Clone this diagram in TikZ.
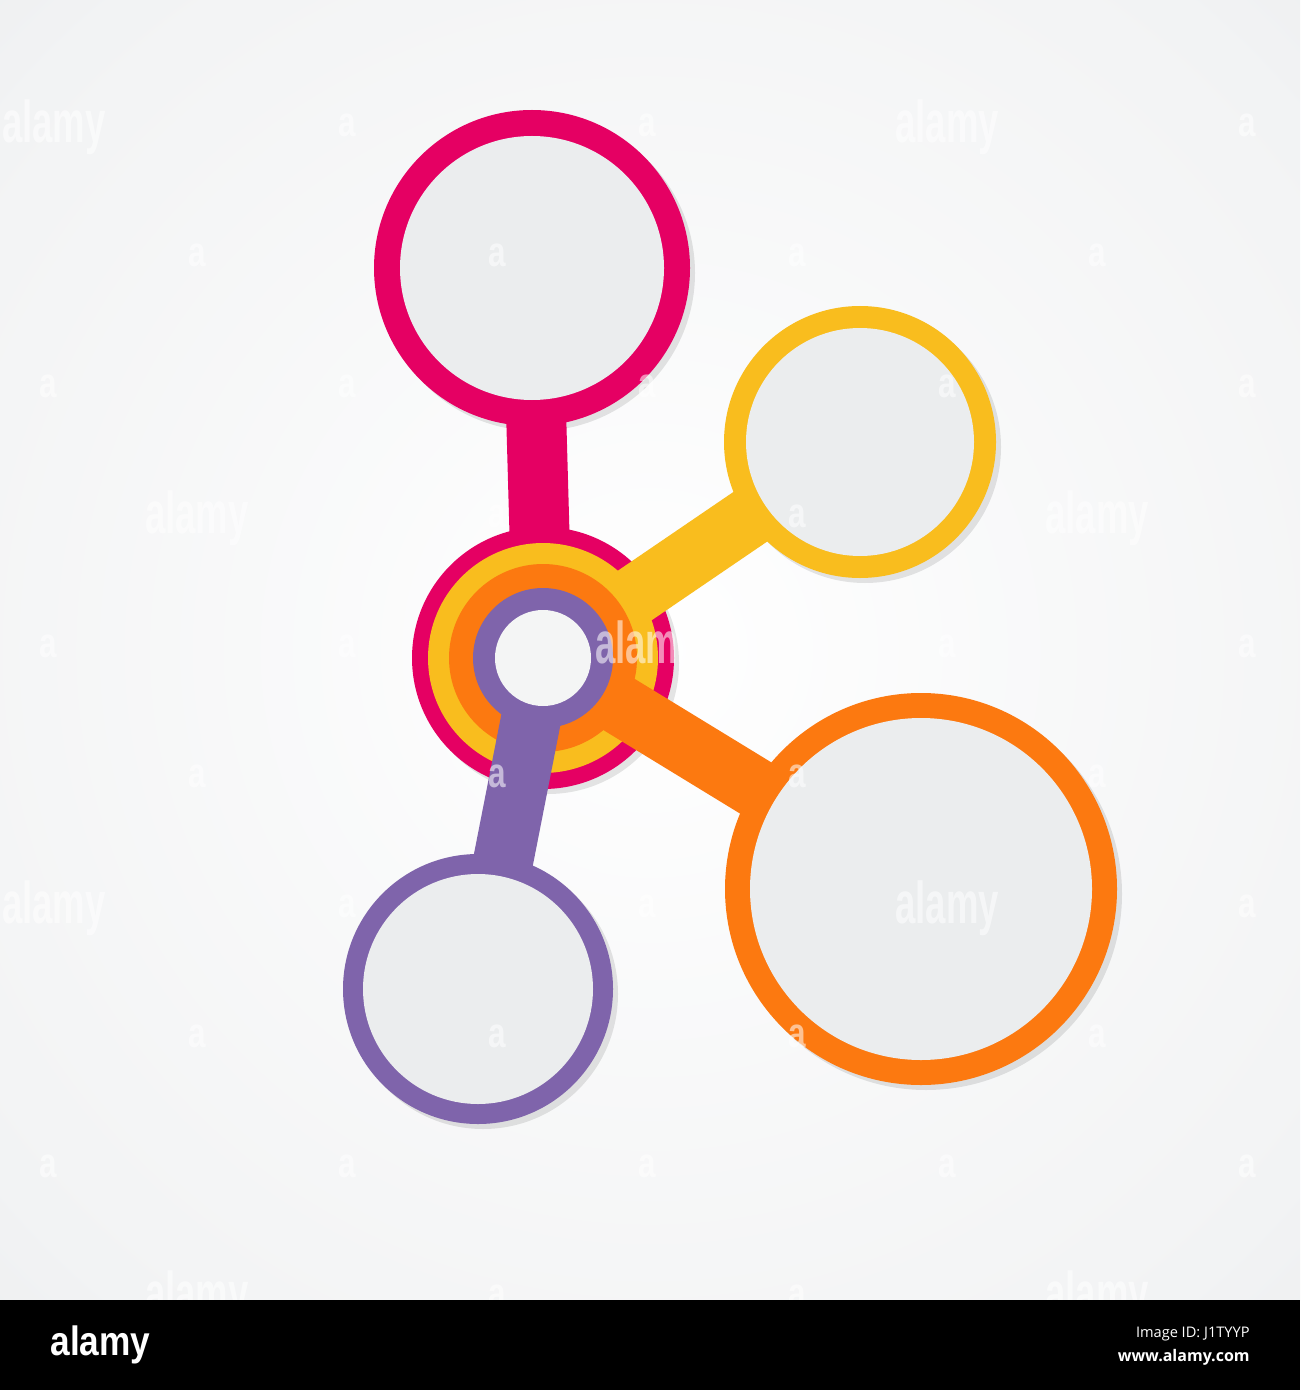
\documentclass[tikz,border=0pt]{standalone}
\usepackage{fontspec}
\usepackage{graphicx}
\setmainfont{Liberation Sans}
\newfontfamily\wmfont{Liberation Sans}
\newfontfamily\bannerfont{Open Sans}
\usetikzlibrary{shadows}

\definecolor{ringpink}{RGB}{229,0,99}
\definecolor{ringyellow}{RGB}{249,189,30}
\definecolor{ringorange}{RGB}{252,121,16}
\definecolor{ringpurple}{RGB}{127,100,171}
\definecolor{padgray}{RGB}{235,237,238}
\definecolor{corewhite}{RGB}{244,245,245}
\definecolor{bgmid}{RGB}{242,243,244}
\definecolor{bgedge}{RGB}{228,230,232}

\pgfdeclareradialshading{paper}{\pgfpoint{0bp}{0bp}}{color(0bp)=(white); color(15bp)=(white!50!bgmid); color(32bp)=(bgmid); color(50bp)=(bgedge)}

\tikzset{
    ring/.style={circle, fill=#1, inner sep=0pt},
    shadowed/.style={drop shadow={shadow xshift=2.5pt, shadow yshift=-2.5pt, fill=black, opacity=.10}},
    pad/.style={circle, fill=padgray, inner sep=0pt},
    stem/.style={line width=30pt, draw=#1},
    wmword/.style={anchor=base, inner sep=0pt, text=white, opacity=.55, font=\wmfont\bfseries\fontsize{29.5}{30}\selectfont},
    wmletter/.style={anchor=base, inner sep=0pt, text=white, opacity=.55, font=\wmfont\bfseries\fontsize{21}{22}\selectfont},
}

\begin{document}
\begin{tikzpicture}[x=0.5pt, y=-0.5pt]
    \useasboundingbox (0,0) rectangle (1300,1390);
    % Paper
    \shade[shading=paper] (0,0) rectangle (1300,1300);

    % Pink - top circle and outer hub
    \node[ring=ringpink, shadowed, minimum size=131pt] (hubpink) at (543,658) {};
    \node[ring=ringpink, shadowed, minimum size=158pt] (top) at (532,268) {};
    \draw[stem=ringpink] (hubpink.center) -- (top.center);
    \node[pad, minimum size=132pt] (toppad) at (top) {};

    % Yellow - right circle
    \node[ring=ringyellow, minimum size=115pt] (hubyellow) at (hubpink) {};
    \node[ring=ringyellow, shadowed, minimum size=136pt] (right) at (860,442) {};
    \draw[stem=ringyellow] (hubyellow.center) -- (right.center);
    \node[pad, minimum size=114pt] (rightpad) at (right) {};

    % Orange - big circle
    \node[ring=ringorange, minimum size=94pt] (huborange) at (hubpink) {};
    \node[ring=ringorange, shadowed, minimum size=196pt] (big) at (921,889) {};
    \draw[stem=ringorange] (huborange.center) -- (big.center);
    \node[pad, minimum size=171pt] (bigpad) at (big) {};

    % Purple - lower circle and inner hub
    \node[ring=ringpurple, minimum size=70pt] (hubpurple) at (hubpink) {};
    \node[ring=ringpurple, shadowed, minimum size=135pt] (low) at (478,989) {};
    \draw[stem=ringpurple] (hubpurple.center) -- (low.center);
    \node[pad, minimum size=115pt] (lowpad) at (low) {};
    \node[ring=corewhite, minimum size=48pt] (hubcore) at (hubpink) {};

    % Watermark
    \foreach \x/\y in {54/127,947/127,197/517,1097/517,647/647,54/907,947/907,197/1297,1097/1297}
        \node[wmword] (wm-\x-\y) at (\x,\y+16) {\scalebox{.62}[1]{alamy}};
    \foreach \x/\y in {347/127,647/127,1247/127,48/387,347/387,647/387,947/387,1247/387,
                      48/647,347/647,947/647,1247/647,347/907,647/907,1247/907,
                      48/1167,347/1167,647/1167,947/1167,1247/1167,
                      197/257,497/257,797/257,1097/257,497/517,797/517,
                      197/777,497/777,797/777,1097/777,197/1037,497/1037,797/1037,1097/1037,
                      497/1297,797/1297}
        \node[wmletter] (wa-\x-\y) at (\x,\y+10) {\scalebox{.75}[1]{a}};

    % Banner
    \fill[black] (0,1300) rectangle (1300,1390);
    \node[anchor=base west, inner sep=0pt, text=white, font=\wmfont\bfseries\fontsize{20.5}{21}\selectfont] (logo) at (50,1355) {\scalebox{.86}[1]{alamy}};
    \node[anchor=base east, inner sep=0pt, text=white, font=\bannerfont\fontsize{7.3}{8}\selectfont] (imgid) at (1250,1337) {Image ID: J1TYYP};
    \node[anchor=base east, inner sep=0pt, text=white, font=\bannerfont\bfseries\fontsize{8}{9}\selectfont] (site) at (1250,1361) {www.alamy.com};
\end{tikzpicture}
\end{document}
